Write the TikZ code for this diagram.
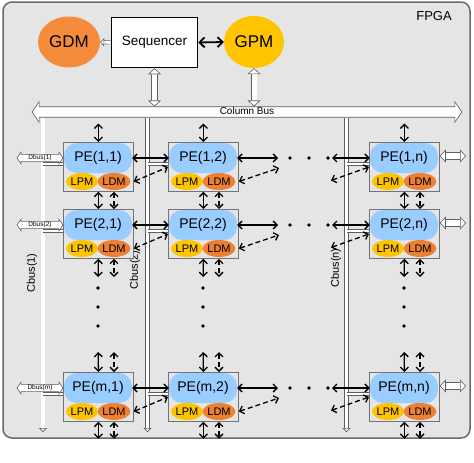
\documentclass[tikz,border=0pt]{standalone}
\usepackage{fontspec}
\setmainfont{Liberation Sans}
\usetikzlibrary{arrows.meta,shapes.geometric,shapes.arrows}
\definecolor{bgc}{RGB}{229,229,229}
\definecolor{framec}{RGB}{105,105,105}
\definecolor{gdmc}{RGB}{245,140,60}
\definecolor{gpmc}{RGB}{255,196,0}
\definecolor{pec}{RGB}{153,204,255}
\definecolor{lpmc}{RGB}{255,196,0}
\definecolor{ldmc}{RGB}{237,128,50}
\definecolor{boxc}{RGB}{115,115,115}
\definecolor{holc}{RGB}{95,95,95}
\newcommand\fs[1]{\fontsize{#1}{#1}\selectfont}
\newcommand\peunit[4]{%
  \node[pebox, anchor=north west] (#1) at (#2,#3) {};
  \node[peblob] (#1p) at (#2+35,#3+16) {#4};
  \node[lpmnode] (#1l) at (#2+19,#3+39.5) {LPM};
  \node[ldmnode] (#1d) at (#2+51,#3+39.5) {LDM};
}
\tikzset{
  hS/.tip={Triangle[open,fill=white,line width=0.6pt,length=4pt,width=8pt]},
  hM/.tip={Triangle[open,fill=white,line width=0.6pt,length=6pt,width=13pt]}
}
\begin{document}
\begin{tikzpicture}[x=1pt,y=-1pt,
  >={Straight Barb[length=4pt,width=8pt]},
  sol/.style={line width=1.3pt, <->},
  dsh/.style={sol, dash pattern=on 5pt off 3pt},
  hol/.style={draw=holc, line width=0.6pt, double=white, double distance=#1},
  pebox/.style={draw=boxc, line width=0.8pt, fill=bgc, minimum width=70pt, minimum height=49pt, inner sep=0pt},
  peblob/.style={fill=pec, rounded corners=13pt, minimum width=68pt, minimum height=30pt, inner sep=0pt, font=\fs{14}},
  lpmnode/.style={ellipse, fill=lpmc, minimum width=30pt, minimum height=17pt, inner sep=0pt, font=\fs{11}},
  ldmnode/.style={ellipse, fill=ldmc, minimum width=31pt, minimum height=17pt, inner sep=0pt, font=\fs{11}},
  dotn/.style={circle, fill=black, inner sep=0pt, minimum size=3.6pt},
  dbus/.style={double arrow, draw=holc, fill=white, line width=0.6pt, minimum height=46pt, double arrow head extend=2.2pt, double arrow tip angle=110, inner xsep=0.5pt, inner ysep=0.4pt, text height=4.6pt, text depth=1.2pt, font=\fs{6.5}},
  cbl/.style={rotate=90, font=\fs{11}}
]
\useasboundingbox (0,0) rectangle (474,463);
\node[draw=framec, line width=1.5pt, fill=bgc, rounded corners=9pt, minimum width=467pt, minimum height=436pt, inner sep=0pt] (fpga) at (236.5,220) {};
\node[font=\fs{13}] (fpgal) at (434,16) {FPGA};

\node[ellipse, fill=gdmc, minimum width=62pt, minimum height=51pt, inner sep=0pt, font=\fs{17}] (gdm) at (69,42) {GDM};
\node[draw, line width=1.6pt, fill=white, minimum width=86pt, minimum height=50pt, inner sep=0pt, font=\fs{13.5}] (seq) at (154.5,42.5) {Sequencer};
\node[ellipse, fill=gpmc, minimum width=60pt, minimum height=52pt, inner sep=0pt, font=\fs{17}] (gpm) at (254,42) {GPM};

\node[double arrow, draw=holc, fill=white, line width=0.6pt, minimum height=430pt, double arrow head extend=5pt, double arrow tip angle=110, inner xsep=0pt, inner ysep=0.2pt, text height=7.3pt, text depth=2.2pt, font=\fs{10}] (bus) at (247,112) {Column Bus};

\draw[hol=2.8pt, hS-] (gdm.east) -- (seq.west);
\draw[line width=1.8pt, {Straight Barb[length=5pt,width=10pt]}-{Straight Barb[length=5pt,width=10pt]}] (seq.east) -- (gpm.west);
\draw[hol=5.5pt, hM-hM] (seq.south) -- (seq.south |- bus.north);
\draw[hol=5pt, hM-hM] (gpm.south) -- (gpm.south |- bus.north);

% column buses
\coordinate (cb1) at (43,432);
\coordinate (cb2) at (147.5,432);
\coordinate (cb3) at (346.5,432);
\foreach \c in {1,2,3}{
  \draw[hol=3.6pt, -hS] (cb\c |- bus.south) -- (cb\c);
}
\node[cbl] (cbl1) at (32,273) {Cbus(1)};
\node[cbl] (cbl2) at (135,270) {Cbus(2)};
\node[cbl] (cbl3) at (336,268) {Cbus(n)};

% PE units
\foreach \r/\t in {1/142,2/209,m/372}{
  \peunit{p\r1}{63}{\t}{PE(\r,1)}
  \peunit{p\r2}{168}{\t}{PE(\r,2)}
  \peunit{p\r3}{369}{\t}{PE(\r,n)}
}

% row connections
\foreach \r/\t in {1/142,2/209,m/372}{
  \coordinate (cc\r) at (0,\t+22);
  \coordinate (hh\r) at (0,\t+14);
  \coordinate (dl\r) at (0,\t+25);
  \coordinate (fa\r) at (279,\t+26);
  \coordinate (fb\r) at (331,\t+38.5);
  \coordinate (fr\r) at (466,\t+14);
  \node[dotn] (ha\r) at (290,\t+16) {};
  \node[dotn] (hb\r) at (309,\t+16) {};
  \node[dotn] (hc\r) at (328,\t+16) {};
  \draw[hol=2.6pt] (cb1 |- cc\r) -- (p\r1.west |- cc\r);
  \draw[hol=2.6pt] (cb2 |- cc\r) -- (p\r2.west |- cc\r);
  \draw[hol=2.6pt] (cb3 |- cc\r) -- (p\r3.west |- cc\r);
  \node[dbus] (db\r) at (40,\t+16) {Dbus(\r)};
  \draw[sol] (p\r1p.east) -- (p\r2p.west);
  \draw[sol, shorten >=10pt] (p\r2p.east) -- (ha\r);
  \draw[sol, shorten <=2pt] (hc\r) -- (p\r3p.west);
  \draw[dsh] (p\r1.east |- p\r1d) -- (p\r2.west |- dl\r);
  \draw[dsh] (p\r2.east |- p\r2d) -- (fa\r);
  \draw[dsh] (fb\r) -- (p\r3.west |- dl\r);
  \draw[hol=6.5pt, hM-hM] (p\r3.east |- hh\r) -- (fr\r);
}

% column connections
\foreach \c/\x in {1/98,2/203,3/404}{
  \node[dotn] (va\c) at (\x,288) {};
  \node[dotn] (vb\c) at (\x,307) {};
  \node[dotn] (vc\c) at (\x,326) {};
  \draw[sol, shorten <=6pt] (p1\c.north |- bus.south) -- (p1\c.north);
  \draw[sol] (p1\c.south) -- (p2\c.north);
  \draw[dsh] (p1\c d |- p1\c.south) -- (p1\c d |- p2\c.north);
  \draw[sol, shorten >=9pt] (p2\c.south) -- (va\c);
  \draw[dsh, shorten >=11pt] (p2\c d |- p2\c.south) -- (p2\c d |- va\c);
  \draw[sol, shorten <=24pt] (vc\c) -- (pm\c.north);
  \draw[dsh, shorten <=26pt] (pm\c d |- vc\c) -- (pm\c d |- pm\c.north);
  \draw[sol] (pm\c.south) -- (pm\c.south |- fpga.south);
  \draw[dsh] (pm\c d |- pm\c.south) -- (pm\c d |- fpga.south);
}
\end{tikzpicture}
\end{document}
